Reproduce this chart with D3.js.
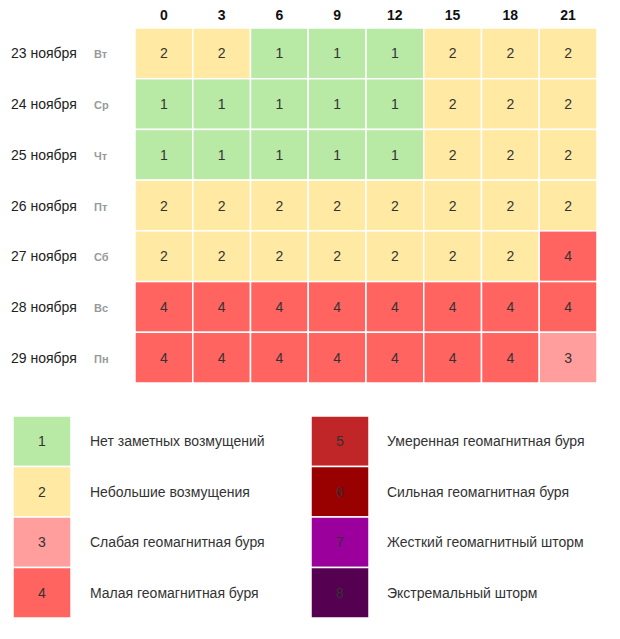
<!DOCTYPE html><html><head><meta charset="utf-8"><script src="https://d3js.org/d3.v7.min.js"></script>
<style>body{margin:0;background:#fff}text{font-family:"Liberation Sans",Arial,sans-serif}</style></head><body><svg id="c" width="620" height="639"></svg>
<script>
const hours=["0","3","6","9","12","15","18","21"];
const dates=["23 ноября","24 ноября","25 ноября","26 ноября","27 ноября","28 ноября","29 ноября"];
const weekdays=["Вт","Ср","Чт","Пт","Сб","Вс","Пн"];
const values=[
[2,2,1,1,1,2,2,2],
[1,1,1,1,1,2,2,2],
[1,1,1,1,1,2,2,2],
[2,2,2,2,2,2,2,2],
[2,2,2,2,2,2,2,4],
[4,4,4,4,4,4,4,4],
[4,4,4,4,4,4,4,3]];
const levels=[1,2,3,4,5,6,7,8];
const levelColors=["#b8e9a5","#ffe9a3","#ff9e9c","#ff6461","#c02527","#990000","#9c009c","#560052"];
const levelLabels=["Нет заметных возмущений","Небольшие возмущения","Слабая геомагнитная буря","Малая геомагнитная буря","Умеренная геомагнитная буря","Сильная геомагнитная буря","Жесткий геомагнитный шторм","Экстремальный шторм"];
const svg=d3.select("#c");
const color=d3.scaleOrdinal(levels,levelColors);
const x=d3.scaleBand(hours,[135,597]);
const y=d3.scaleBand(dates,[28,383]);
hours.forEach(h=>svg.append("text").attr("x",x(h)+x.bandwidth()/2).attr("y",20).attr("text-anchor","middle").attr("font-weight","bold").attr("font-size",14).attr("fill","#111").text(h));
dates.forEach((d,i)=>{
 const cy=y(d)+y.bandwidth()/2+5;
 svg.append("text").attr("x",11).attr("y",cy).attr("font-size",14).attr("fill","#222").text(d);
 svg.append("text").attr("x",94).attr("y",cy).attr("font-size",11).attr("font-weight","bold").attr("fill","#999").text(weekdays[i]);
 values[i].forEach((v,j)=>{
  svg.append("rect").attr("x",x(hours[j])).attr("y",y(d)).attr("width",x.bandwidth()).attr("height",y.bandwidth()).attr("fill",color(v)).attr("stroke","#fff").attr("stroke-width",1.5);
  svg.append("text").attr("x",x(hours[j])+x.bandwidth()/2).attr("y",cy).attr("text-anchor","middle").attr("font-size",14).attr("fill","#333").text(v);
 });
});
const ly=d3.scaleBand(d3.range(4),[416,618]);
levels.forEach((l,k)=>{
 const col=Math.floor(k/4),r=k%4;
 const bx=col?311:13;
 svg.append("rect").attr("x",bx).attr("y",ly(r)).attr("width",58).attr("height",ly.bandwidth()).attr("fill",color(l)).attr("stroke","#fff").attr("stroke-width",1.5);
 const cy=ly(r)+ly.bandwidth()/2+5;
 svg.append("text").attr("x",bx+29).attr("y",cy).attr("text-anchor","middle").attr("font-size",14).attr("fill","#333").text(l);
 svg.append("text").attr("x",col?387:90).attr("y",cy).attr("font-size",14).attr("fill","#333").text(levelLabels[k]);
});
</script></body></html>
